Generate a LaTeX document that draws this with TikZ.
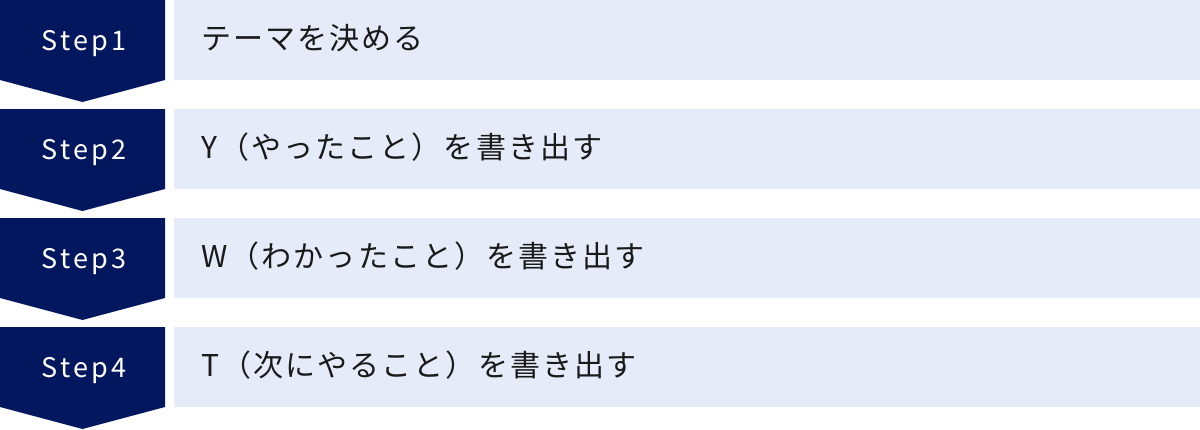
\documentclass[tikz,border=0pt]{standalone}
\usepackage{fontspec}
\setmainfont{Noto Sans CJK JP}
\newfontfamily\stepfont[LetterSpace=12]{Noto Sans CJK JP}
\newfontfamily\taskfont[LetterSpace=7]{Noto Sans CJK JP}
\definecolor{stepnavy}{HTML}{03175F}
\definecolor{rowfill}{HTML}{E5EBF8}
\definecolor{rowtext}{HTML}{1A1A1A}
\tikzset{
  stepshape/.style={fill=stepnavy},
  rowbox/.style={fill=rowfill},
  steplabel/.style={anchor=base, inner sep=0pt, text=white, font=\stepfont\fontsize{27}{32}\selectfont},
  rowlabel/.style={anchor=base west, inner sep=0pt, text=rowtext, font=\taskfont\fontsize{30}{36}\selectfont}
}
\begin{document}
\begin{tikzpicture}[x=1pt,y=-1pt]

    % Fix the canvas to the size of the reference
    \useasboundingbox (0,0) rectangle (1200,429);

    % Step 1
    \fill[stepshape] (0,0) -- (165,0) -- (165,80) -- (82.5,102) -- (0,80) -- cycle;
    \fill[rowbox] (174,0) rectangle (1200,80);
    \node[steplabel] (step1) at (84,50) {Step1};
    \node[rowlabel] (task1) at (201,49.5) {テーマを決める};

    % Step 2
    \fill[stepshape] (0,109) -- (165,109) -- (165,189) -- (82.5,211) -- (0,189) -- cycle;
    \fill[rowbox] (174,109) rectangle (1200,189);
    \node[steplabel] (step2) at (84,159) {Step2};
    \node[rowlabel] (task2) at (201,158.5) {Y（やったこと）を書き出す};

    % Step 3
    \fill[stepshape] (0,218) -- (165,218) -- (165,298) -- (82.5,320) -- (0,298) -- cycle;
    \fill[rowbox] (174,218) rectangle (1200,298);
    \node[steplabel] (step3) at (84,268) {Step3};
    \node[rowlabel] (task3) at (201,267.5) {W（わかったこと）を書き出す};

    % Step 4
    \fill[stepshape] (0,327) -- (165,327) -- (165,407) -- (82.5,429) -- (0,407) -- cycle;
    \fill[rowbox] (174,327) rectangle (1200,407);
    \node[steplabel] (step4) at (84,377) {Step4};
    \node[rowlabel] (task4) at (201,376.5) {T（次にやること）を書き出す};

\end{tikzpicture}
\end{document}
